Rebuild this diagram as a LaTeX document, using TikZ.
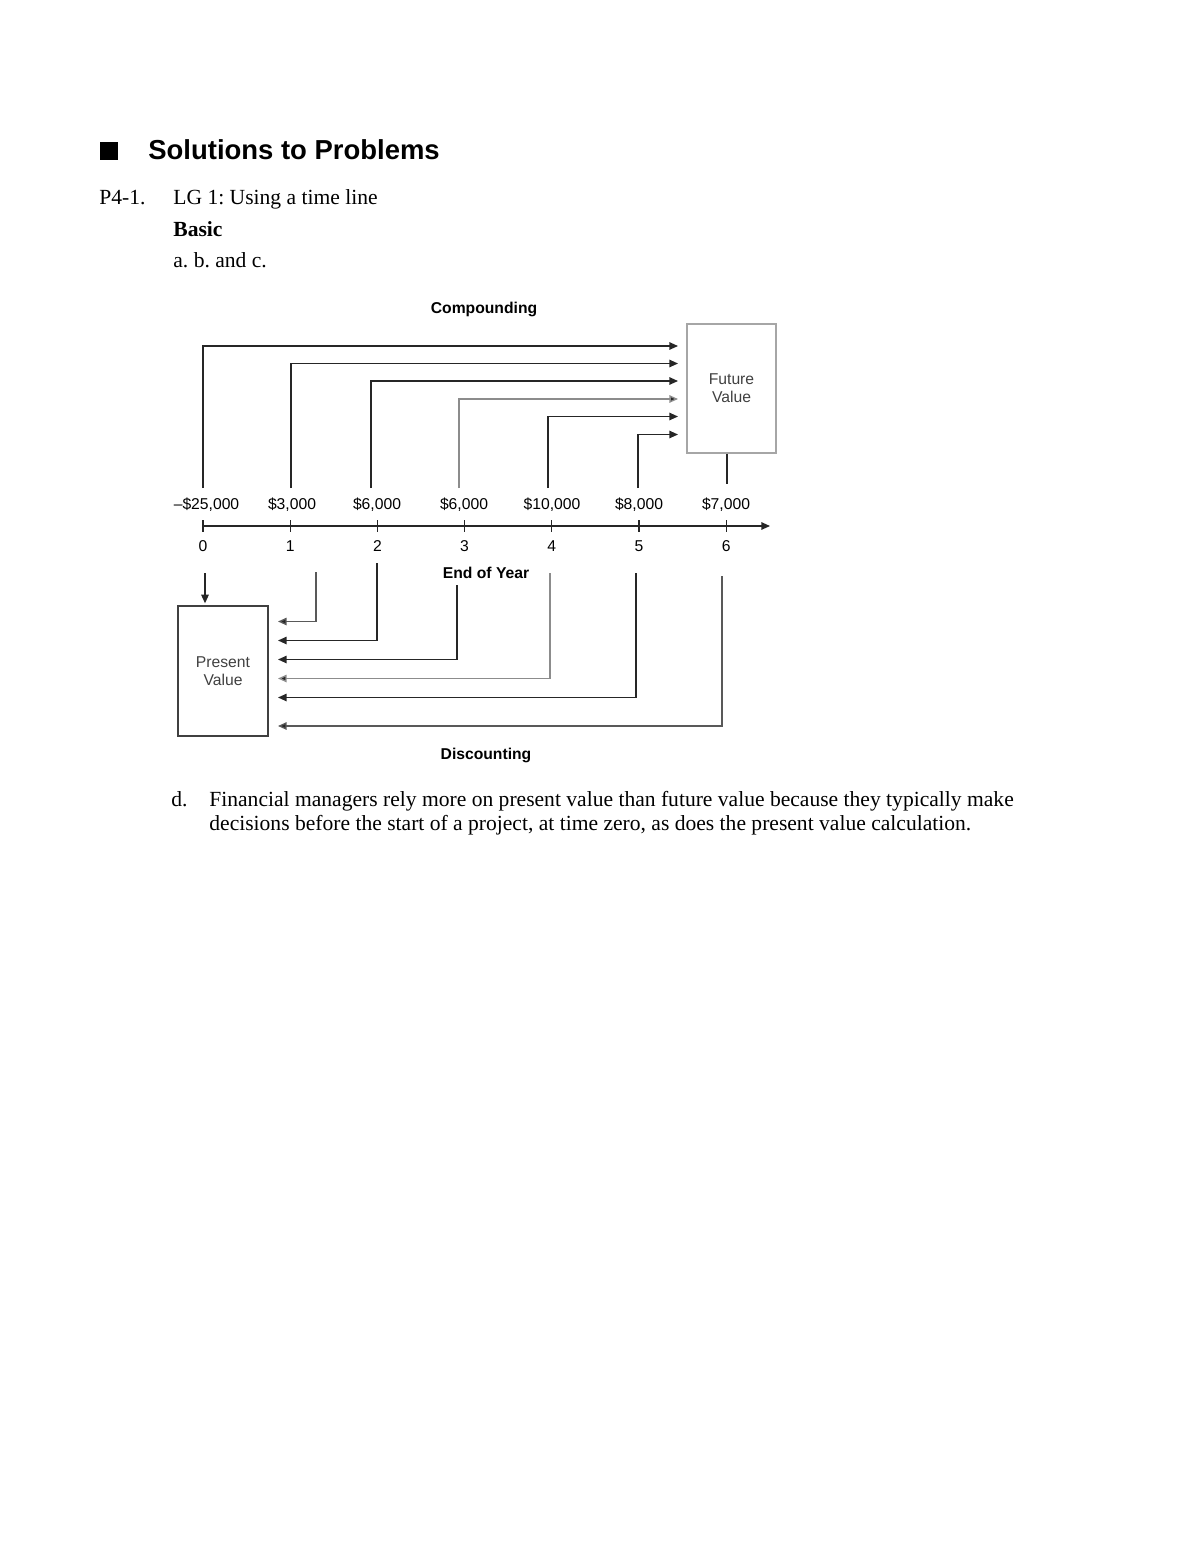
\documentclass[tikz,border=0pt]{standalone}
\usepackage{fontspec}
\setmainfont{Liberation Serif}
\setsansfont{Liberation Sans}
\usetikzlibrary{arrows.meta}
\frenchspacing

\begin{document}
\begin{tikzpicture}[x=0.51pt,y=-0.51pt,
body/.style={font=\fontsize{11}{13}\selectfont,inner sep=0pt,anchor=base west},
heading/.style={font=\sffamily\bfseries\fontsize{14}{16}\selectfont,inner sep=0pt,anchor=base west},
bulletsq/.style={fill=black,inner sep=0pt,minimum size=9pt},
para/.style={font=\fontsize{11}{13}\selectfont,inner sep=0pt,anchor=base west},
lbl/.style={font=\sffamily\fontsize{8}{9.5}\selectfont,inner sep=0pt,anchor=base},
lblbold/.style={font=\sffamily\bfseries\fontsize{8}{9.5}\selectfont,inner sep=0pt,anchor=base},
valbox/.style={font=\sffamily\fontsize{8}{9.2}\selectfont,text=black!75,align=center,minimum width=45.5pt,minimum height=66pt,inner sep=0pt},
link/.style={line width=0.7pt,draw=black!85},
arrow/.style={-{Triangle[length=4.4pt,width=3.8pt]},line width=0.7pt,draw=black!85},
midarrow/.style={-{Triangle[length=4.4pt,width=3.8pt,fill=black!85]},line width=0.7pt,draw=black!65},
lightarrow/.style={-{Triangle[length=4.4pt,width=3.8pt,fill=black!85]},line width=0.7pt,draw=black!45} ]

\useasboundingbox (0,0) rectangle (1200,1553);

\node[bulletsq](sq) at (109,151) {};

\node[heading](title) at (148,160) {Solutions to Problems};

\node[body](pnum) at (99,204) {P4-1.};

\node[body](lg) at (173,204) {LG 1: Using a time line};

\node[body,font=\fontsize{11}{13}\selectfont\bfseries](basic) at (173,236) {Basic};

\node[body](parts) at (173,267) {a. b. and c.};

\node[lblbold](comp) at (484,313) {Compounding};

\node[valbox,draw=black!35,line width=0.8pt](fv) at (731.5,388.5) {Future\\Value};

\node[lbl](amt0) at (206.5,509) {--\$25,000};
\node[lbl](amt1) at (292,509) {\$3,000};
\node[lbl](amt2) at (377,509) {\$6,000};
\node[lbl](amt3) at (464,509) {\$6,000};
\node[lbl](amt4) at (552,509) {\$10,000};
\node[lbl](amt5) at (639,509) {\$8,000};
\node[lbl](amt6) at (726,509) {\$7,000};

\coordinate (c0) at (203,488);
\coordinate (c1) at (291,488);
\coordinate (c2) at (371,488);
\coordinate (c3) at (459,488);
\coordinate (c4) at (548,488);
\coordinate (c5) at (638,488);

\coordinate (f0) at (678,346);
\coordinate (f1) at (678,363.5);
\coordinate (f2) at (678,381);
\coordinate (f3) at (678,399);
\coordinate (f4) at (678,416.5);
\coordinate (f5) at (678,434.5);

\draw[arrow] (c0) |- (f0);
\draw[arrow] (c1) |- (f1);
\draw[arrow] (c2) |- (f2);
\draw[lightarrow] (c3) |- (f3);
\draw[arrow] (c4) |- (f4);
\draw[arrow] (c5) |- (f5);

\coordinate (fvb) at (727,484);
\draw[link] (fv.south -| fvb) -- (fvb);

\coordinate (ax0) at (203,526);
\coordinate (axend) at (770,526);
\draw[arrow] (ax0) -- (axend);

\foreach \x in {203,290.2,377.4,464.6,551.8,639,726.2}
  \draw[link] (\x,520) -- (\x,532);

\node[lbl](yr0) at (203,551) {0};
\node[lbl](yr1) at (290.2,551) {1};
\node[lbl](yr2) at (377.4,551) {2};
\node[lbl](yr3) at (464.6,551) {3};
\node[lbl](yr4) at (551.8,551) {4};
\node[lbl](yr5) at (639,551) {5};
\node[lbl](yr6) at (726.2,551) {6};

\node[lblbold](eoy) at (486,578) {End of Year};

\node[valbox,draw=black!75,line width=1pt](pv) at (223,671) {Present\\Value};

\coordinate (d0) at (205,573);
\draw[arrow] (d0) -- ([yshift=1pt]pv.north -| d0);

\coordinate (d1) at (316,572);
\coordinate (d2) at (377,563);
\coordinate (d3) at (457,585);
\coordinate (d4) at (550,573);
\coordinate (d5) at (636,573);
\coordinate (d6) at (722,576);

\coordinate (p1) at (278,621.5);
\coordinate (p2) at (278,640.5);
\coordinate (p3) at (278,659.5);
\coordinate (p4) at (278,678.5);
\coordinate (p5) at (278,697.5);
\coordinate (p6) at (278,726);

\draw[midarrow] (d1) |- (p1);
\draw[arrow] (d2) |- (p2);
\draw[arrow] (d3) |- (p3);
\draw[lightarrow] (d4) |- (p4);
\draw[arrow] (d5) |- (p5);
\draw[midarrow] (d6) |- (p6);

\node[lblbold](disc) at (486,759) {Discounting};

\node[para](dlabel) at (171,806) {d.};

\node[para](dline1) at (209,806) {Financial managers rely more on present value than future value because they typically make};

\node[para](dline2) at (209,830) {decisions before the start of a project, at time zero, as does the present value calculation.};
\end{tikzpicture}
\end{document}
